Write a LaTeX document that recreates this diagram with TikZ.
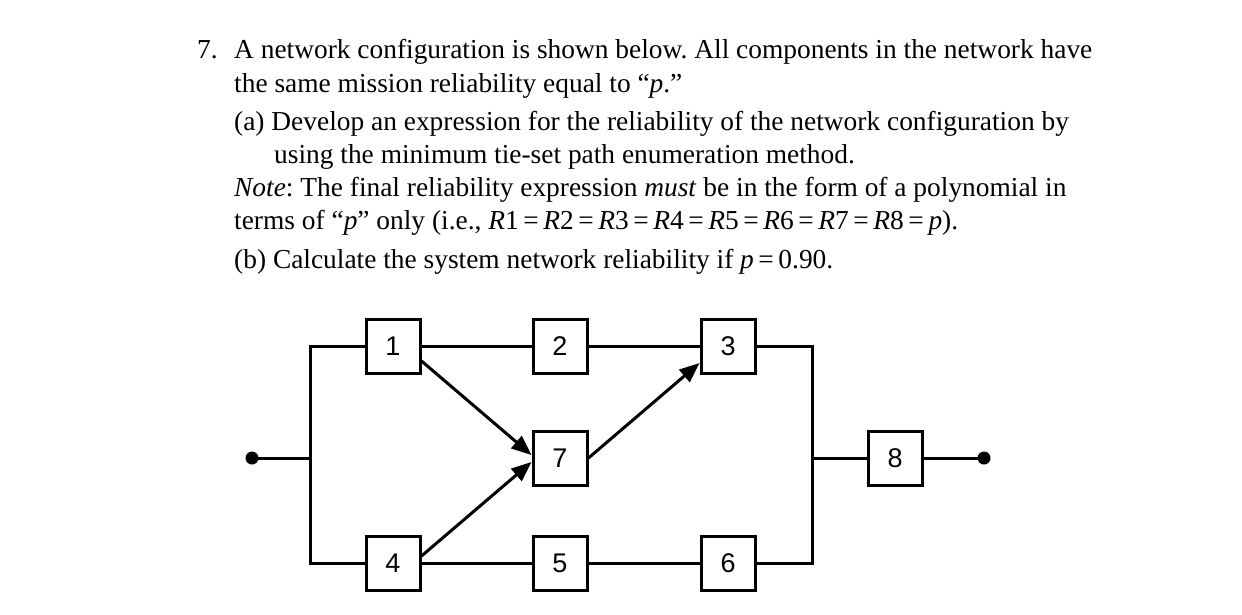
\documentclass[tikz,border=0pt]{standalone}
\usepackage{fontspec}
\setmainfont{Liberation Serif}
\newfontfamily\boxfont{Liberation Sans}
\usetikzlibrary{arrows.meta}
\frenchspacing
\begin{document}
\begin{tikzpicture}[x=1pt,y=-1pt,
  txt/.style={anchor=base west,inner sep=0pt,font=\fontsize{27.4}{30}\selectfont},
  comp/.style={draw,line width=3pt,minimum size=54pt,inner sep=0pt,font=\boxfont\fontsize{27}{27}\selectfont},
  wire/.style={line width=3pt},
  arr/.style={line width=3pt,-{Triangle[length=20pt,width=16pt]}},
  dot/.style={circle,fill,inner sep=0pt,minimum size=13pt}]
\useasboundingbox (0,0) rectangle (1242,614);
\newcommand{\eqs}{\,=\,}
\node[txt] (l0) at (197,58) {7.};
\node[txt] (l1) at (234,58) {A network configuration is shown below. All components in the network have};
\node[txt] (l2) at (234,92) {the same mission reliability equal to “\textit{p}.”};
\node[txt] (l3) at (234,130) {(a) Develop an expression for the reliability of the network configuration by};
\node[txt] (l4) at (274,163) {using the minimum tie-set path enumeration method.};
\node[txt] (l5) at (234,196) {\textit{Note}: The final reliability expression \textit{must} be in the form of a polynomial in};
\node[txt] (l6) at (234,229) {terms of “\textit{p}” only (i.e., \textit{R}1\eqs\textit{R}2\eqs\textit{R}3\eqs\textit{R}4\eqs\textit{R}5\eqs\textit{R}6\eqs\textit{R}7\eqs\textit{R}8\eqs\textit{p}).};
\node[txt] (l7) at (234,268) {(b) Calculate the system network reliability if \textit{p}\eqs0.90.};

\node[comp] (b1) at (393,346) {1};
\node[comp] (b2) at (560,346) {2};
\node[comp] (b3) at (728,346) {3};
\node[comp] (b7) at (560,458) {7};
\node[comp] (b4) at (393,563) {4};
\node[comp] (b5) at (560,563) {5};
\node[comp] (b6) at (728,563) {6};
\node[comp] (b8) at (895,458) {8};
\node[dot] (in) at (252,458) {};
\node[dot] (out) at (984,458) {};
\coordinate (jl) at (310,458);
\coordinate (jr) at (812,458);

\draw[wire] (in.center) -- (jl);
\draw[wire] (b1.west) -| (jl) |- (b4.west);
\draw[wire] (b1) -- (b2) -- (b3);
\draw[wire] (b4) -- (b5) -- (b6);
\draw[wire] (b3.east) -| (jr) |- (b6.east);
\draw[wire] (jr) -- (b8.west);
\draw[wire] (b8.east) -- (out.center);
\draw[arr] ([yshift=-15pt]b1.east) -- ([yshift=3pt]b7.west);
\draw[arr] ([yshift=7pt]b4.east) -- ([yshift=-4pt]b7.west);
\draw[arr] (b7.east) -- ([yshift=-17pt]b3.west);
\end{tikzpicture}
\end{document}
